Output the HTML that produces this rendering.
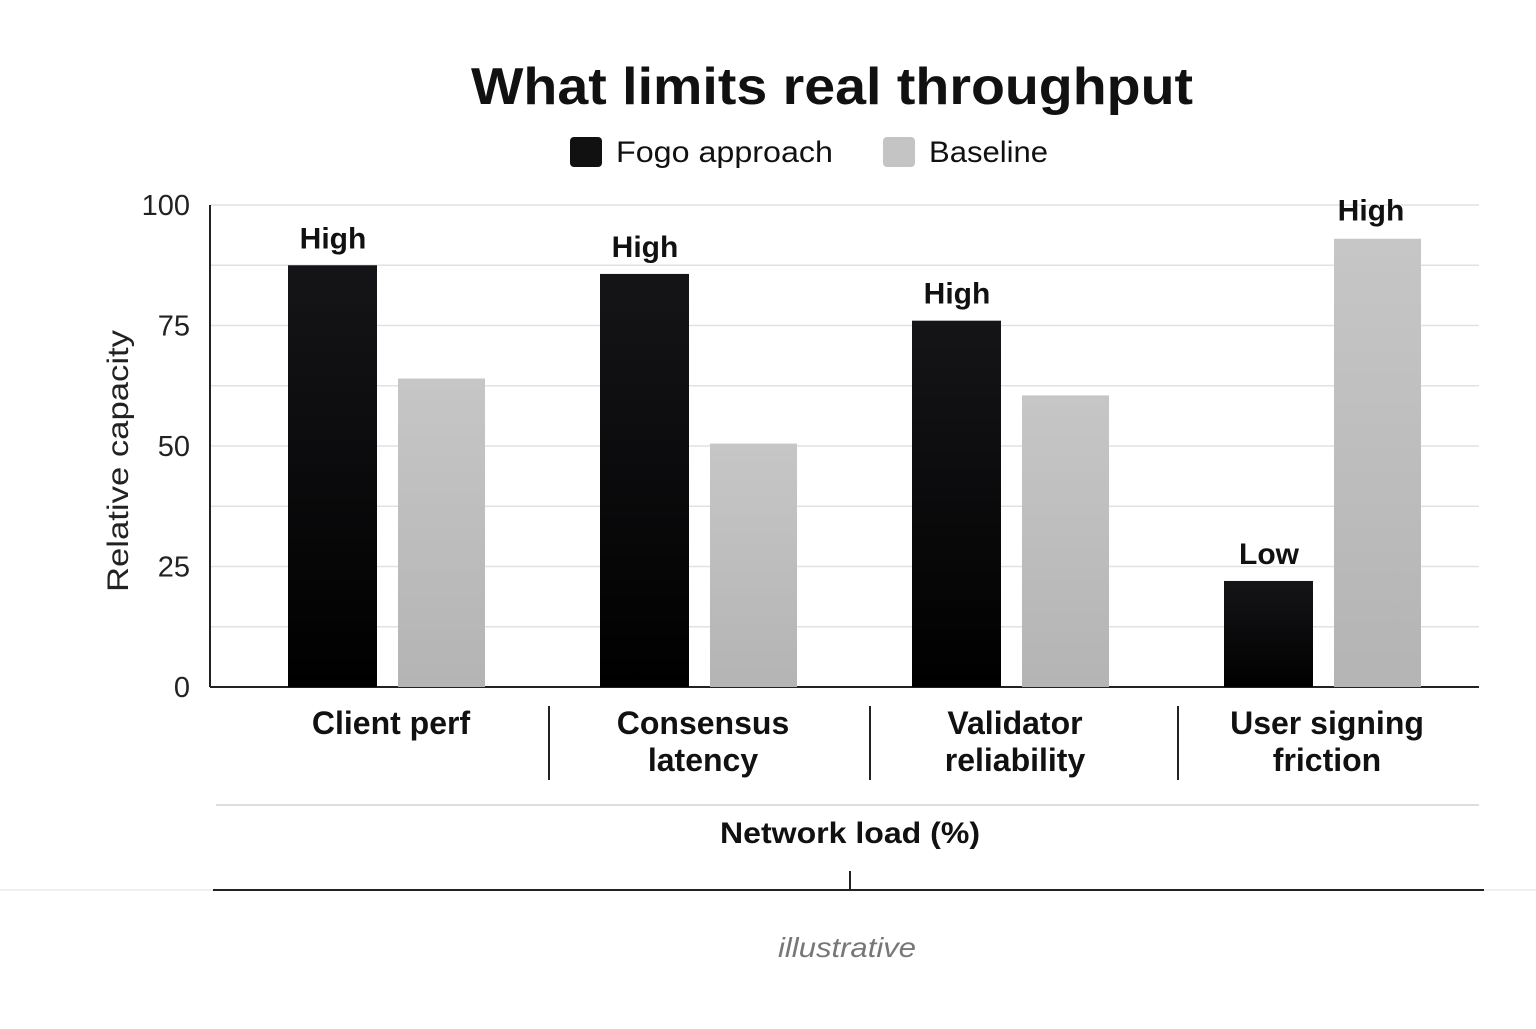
<!DOCTYPE html>
<html><head><meta charset="utf-8"><style>
html,body{margin:0;padding:0;background:#fff;}
body{width:1536px;height:1024px;overflow:hidden;font-family:"Liberation Sans","DejaVu Sans",sans-serif;}
</style></head><body>
<svg id="chart" width="1536" height="1024" xmlns="http://www.w3.org/2000/svg">
<defs>
<linearGradient id="gDark" x1="0" y1="0" x2="0" y2="1"><stop offset="0" stop-color="#151518"/><stop offset="1" stop-color="#000"/></linearGradient>
<linearGradient id="gLight" x1="0" y1="0" x2="0" y2="1"><stop offset="0" stop-color="#c6c6c6"/><stop offset="1" stop-color="#b4b4b4"/></linearGradient>
</defs>
<text x="832" y="104" text-anchor="middle" font-size="52" font-weight="bold" fill="#111" textLength="722" lengthAdjust="spacingAndGlyphs">What limits real throughput</text>
<g>
<rect x="570" y="137" width="32" height="30" rx="4" fill="#111"/>
<text x="616" y="162" font-size="30" fill="#111" textLength="217" lengthAdjust="spacingAndGlyphs">Fogo approach</text>
<rect x="883" y="137" width="32" height="30" rx="4" fill="#c4c4c4"/>
<text x="929" y="162" font-size="30" fill="#111" textLength="119" lengthAdjust="spacingAndGlyphs">Baseline</text>
</g>
<g id="grid"></g>
<g id="bars"></g>
<text transform="translate(128,461) rotate(-90)" text-anchor="middle" font-size="30" fill="#222" textLength="262" lengthAdjust="spacingAndGlyphs">Relative capacity</text>
<line x1="216" y1="805" x2="1479" y2="805" stroke="#ddd" stroke-width="2"/>
<text x="850" y="843" text-anchor="middle" font-size="30" font-weight="bold" fill="#111" textLength="260" lengthAdjust="spacingAndGlyphs">Network load (%)</text>
<line x1="0" y1="890" x2="1536" y2="890" stroke="#f0f0f0" stroke-width="2"/>
<line x1="213" y1="890" x2="1484" y2="890" stroke="#222" stroke-width="2"/>
<line x1="850" y1="871" x2="850" y2="890" stroke="#222" stroke-width="2"/>
<text x="847" y="957" text-anchor="middle" font-size="28" font-style="italic" fill="#777" textLength="138" lengthAdjust="spacingAndGlyphs">illustrative</text>
</svg>
<script>
const categories = [["Client perf"],["Consensus","latency"],["Validator","reliability"],["User signing","friction"]];
const fogoValues = [87.5, 85.7, 76, 22];
const baselineValues = [64, 50.5, 60.5, 93];
const fogoLabels = ["High","High","High","Low"];
const baselineLabels = ["","","","High"];
const yTicks = [0,25,50,75,100];
const NS="http://www.w3.org/2000/svg";
const X0=210,X1=1479,Y0=687,Y100=205;
const y=v=>Y0-(Y0-Y100)*v/100;
const step=312;
const cx=i=>385+step*i;
function mk(tag,attrs,parent){const e=document.createElementNS(NS,tag);for(const k in attrs)e.setAttribute(k,attrs[k]);parent.appendChild(e);return e;}
const grid=document.getElementById('grid'),bars=document.getElementById('bars');
for(let v=12.5;v<=100;v+=12.5){
 const l=mk('line',{x1:X0,x2:X1,y1:y(v),y2:y(v),stroke:'#e2e2e2','stroke-width':1.5},grid);
 
 
}
yTicks.forEach(t=>{
 const e=mk('text',{x:190,y:y(t)+10,'text-anchor':'end','font-size':29,fill:'#222'},grid);
 e.textContent=t;
 
 
});
const ax=mk('line',{x1:X0,x2:X0,y1:y(100),y2:Y0,stroke:'#222','stroke-width':2},grid);


const bx=mk('line',{x1:X0,x2:X1,y1:Y0,y2:Y0,stroke:'#222','stroke-width':2},grid);


const sepX=[549,870,1178];
categories.forEach((c,i)=>{
 const c0=cx(i);
 const fb=mk('rect',{x:c0-97,y:y(fogoValues[i]),width:89,height:Y0-y(fogoValues[i]),fill:'url(#gDark)'},bars);
 
 
 const bb=mk('rect',{x:c0+13,y:y(baselineValues[i]),width:87,height:Y0-y(baselineValues[i]),fill:'url(#gLight)'},bars);
 
 
 if(fogoLabels[i]){
  const t=mk('text',{x:c0-52,y:y(fogoValues[i])-17,'text-anchor':'middle','font-size':30,'font-weight':'bold',fill:'#111'},bars);
  t.textContent=fogoLabels[i];
  
  
 }
 if(baselineLabels[i]){
  const t=mk('text',{x:c0+50,y:y(baselineValues[i])-18,'text-anchor':'middle','font-size':30,'font-weight':'bold',fill:'#111'},bars);
  t.textContent=baselineLabels[i];
  
  
 }
 c.forEach((line,j)=>{
  const t=mk('text',{x:c0+6,y:734+j*37,'text-anchor':'middle','font-size':32,'font-weight':'bold',fill:'#111'},bars);
  t.textContent=line;
  
  
 });
});
sepX.forEach(sx=>{
 const s=mk('line',{x1:sx,x2:sx,y1:706,y2:780,stroke:'#222','stroke-width':2},bars);
 
 
});
</script>
</body></html>
